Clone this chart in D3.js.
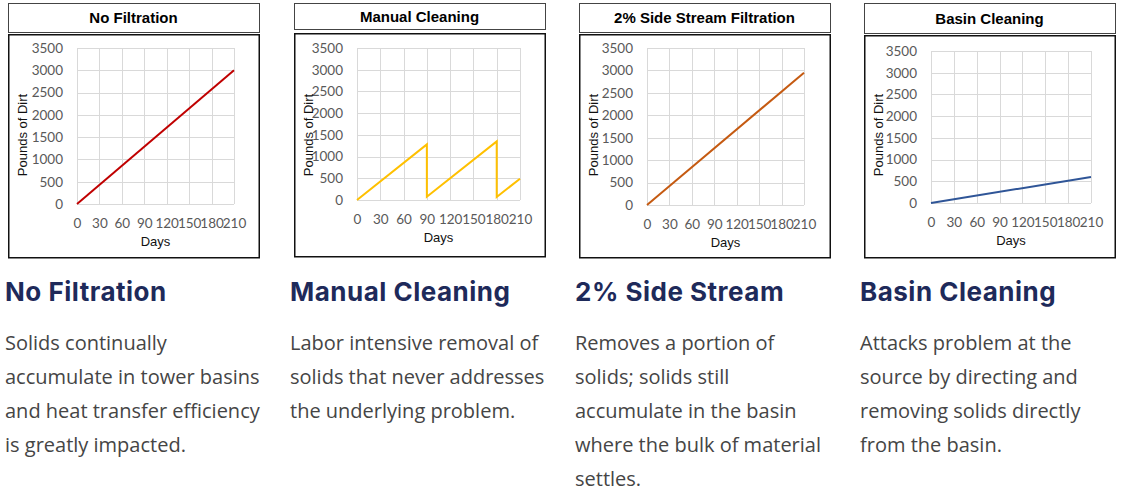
<!DOCTYPE html>
<html>
<head>
<meta charset="utf-8">
<script src="https://cdn.jsdelivr.net/npm/d3@7"></script>
<style>
  html, body { margin: 0; padding: 0; background: #fff; }
  svg { display: block; }
</style>
</head>
<body>
<svg id="chart" width="1125" height="492"></svg>
<script>
// ---------- DATA ----------
const chartTitles = ["No Filtration", "Manual Cleaning", "2% Side Stream Filtration", "Basin Cleaning"];
const dayTicks = [0, 30, 60, 90, 120, 150, 180, 210];
const dirtTicks = [0, 500, 1000, 1500, 2000, 2500, 3000, 3500];
const xAxisTitle = "Days";
const yAxisTitle = "Pounds of Dirt";

const noFiltrationDays = [0, 210];
const noFiltrationDirt = [0, 3000];
const manualDays = [0, 90, 90, 180, 180, 210];
const manualDirt = [0, 1280, 75, 1350, 70, 490];
const sideStreamDays = [0, 210];
const sideStreamDirt = [0, 2950];
const basinDays = [0, 210];
const basinDirt = [0, 600];

const headings = ["No Filtration", "Manual Cleaning", "2% Side Stream", "Basin Cleaning"];
const descriptions = [
  ["Solids continually", "accumulate in tower basins", "and heat transfer efficiency", "is greatly impacted."],
  ["Labor intensive removal of", "solids that never addresses", "the underlying problem."],
  ["Removes a portion of", "solids; solids still", "accumulate in the basin", "where the bulk of material", "settles."],
  ["Attacks problem at the", "source by directing and", "removing solids directly", "from the basin."]
];

// ---------- LAYOUT ----------
const panels = [
  { days: noFiltrationDays, dirt: noFiltrationDirt, color: "#C00000",
    left: 8, right: 259, tTop: 3, tBot: 32, cTop: 34, cBot: 257,
    px0: 77, px1: 234, py0: 204, py1: 48, textX: 5 },
  { days: manualDays, dirt: manualDirt, color: "#FFC000",
    left: 294, right: 545, tTop: 3, tBot: 29, cTop: 33, cBot: 256,
    px0: 357, px1: 520, py0: 200, py1: 48, textX: 290 },
  { days: sideStreamDays, dirt: sideStreamDirt, color: "#C55A11",
    left: 579, right: 830, tTop: 3, tBot: 32, cTop: 34, cBot: 257,
    px0: 647, px1: 804, py0: 205, py1: 48, textX: 575 },
  { days: basinDays, dirt: basinDirt, color: "#2F5597",
    left: 864, right: 1115, tTop: 3, tBot: 33, cTop: 35, cBot: 257,
    px0: 931, px1: 1091, py0: 203, py1: 51, textX: 860 }
];

const svg = d3.select("#chart");
svg.append("rect").attr("width", 1125).attr("height", 492).attr("fill", "#fff");

panels.forEach((p, i) => {
  const g = svg.append("g");
  // title box
  g.append("rect")
    .attr("x", p.left + 0.5).attr("y", p.tTop + 0.5)
    .attr("width", p.right - p.left).attr("height", p.tBot - p.tTop)
    .attr("fill", "#fff").attr("stroke", "#444").attr("stroke-width", 1);
  g.append("text")
    .attr("x", (p.left + p.right) / 2).attr("y", (p.tTop + p.tBot) / 2 + 5.5)
    .attr("text-anchor", "middle")
    .attr("font-family", "Liberation Sans, Arial, sans-serif")
    .attr("font-weight", "bold").attr("font-size", 15)
    .attr("fill", "#000")
    .text(chartTitles[i]);
  // chart box
  g.append("rect")
    .attr("x", p.left + 0.75).attr("y", p.cTop + 0.75)
    .attr("width", p.right - p.left - 0.5).attr("height", p.cBot - p.cTop)
    .attr("fill", "#fff").attr("stroke", "#111").attr("stroke-width", 1.5);

  const x = d3.scaleLinear().domain([0, 210]).range([p.px0, p.px1]);
  const y = d3.scaleLinear().domain([0, 3500]).range([p.py0, p.py1]);

  // grid
  g.append("g").selectAll("line").data(dayTicks).join("line")
    .attr("x1", d => Math.round(x(d)) + 0.5).attr("x2", d => Math.round(x(d)) + 0.5)
    .attr("y1", y(3500)).attr("y2", y(0))
    .attr("stroke", "#d9d9d9").attr("stroke-width", 1);
  g.append("g").selectAll("line").data(dirtTicks).join("line")
    .attr("x1", x(0)).attr("x2", x(210))
    .attr("y1", d => Math.round(y(d)) + 0.5).attr("y2", d => Math.round(y(d)) + 0.5)
    .attr("stroke", "#d9d9d9").attr("stroke-width", 1);

  // axes (labels only)
  const yAxis = d3.axisLeft(y).tickValues(dirtTicks).tickFormat(d3.format("d")).tickSize(0).tickPadding(14);
  const ya = g.append("g").attr("transform", `translate(${p.px0},0)`).call(yAxis);
  ya.select(".domain").remove();
  ya.selectAll("text").attr("font-family", "Lato, Carlito, sans-serif").attr("font-size", 13.5).attr("fill", "#595959");

  const xAxis = d3.axisBottom(x).tickValues(dayTicks).tickFormat(d3.format("d")).tickSize(0).tickPadding(14);
  const xa = g.append("g").attr("transform", `translate(0,${p.py0})`).call(xAxis);
  xa.select(".domain").remove();
  xa.selectAll("text").attr("font-family", "Lato, Carlito, sans-serif").attr("font-size", 13.5).attr("fill", "#595959");

  // axis titles
  g.append("text")
    .attr("x", (p.px0 + p.px1) / 2).attr("y", p.py0 + 42)
    .attr("text-anchor", "middle")
    .attr("font-family", "Liberation Sans, Arial, sans-serif").attr("font-size", 13)
    .attr("fill", "#111").text(xAxisTitle);
  g.append("text")
    .attr("transform", `translate(${p.left + 19},135) rotate(-90)`)
    .attr("text-anchor", "middle")
    .attr("font-family", "Liberation Sans, Arial, sans-serif").attr("font-size", 13)
    .attr("fill", "#111").text(yAxisTitle);

  // series line
  const pts = p.days.map((d, k) => [d, p.dirt[k]]);
  g.append("path").datum(pts)
    .attr("d", d3.line().x(d => x(d[0])).y(d => y(d[1])))
    .attr("fill", "none").attr("stroke", p.color).attr("stroke-width", 2)
    .attr("stroke-linejoin", "miter");

  // heading and description below
  svg.append("text")
    .attr("x", p.textX).attr("y", 301)
    .attr("font-family", "Inter, Montserrat, sans-serif")
    .attr("font-weight", 700).attr("font-size", 26)
    .attr("letter-spacing", 0.5)
    .attr("fill", "#1e2a5a")
    .text(headings[i]);
  svg.append("g").selectAll("text").data(descriptions[i]).join("text")
    .attr("x", p.textX).attr("y", (d, k) => 350 + k * 34)
    .attr("font-family", "Open Sans, sans-serif").attr("font-size", 20)
    .attr("fill", "#454545")
    .text(d => d);
});
</script>
</body>
</html>
